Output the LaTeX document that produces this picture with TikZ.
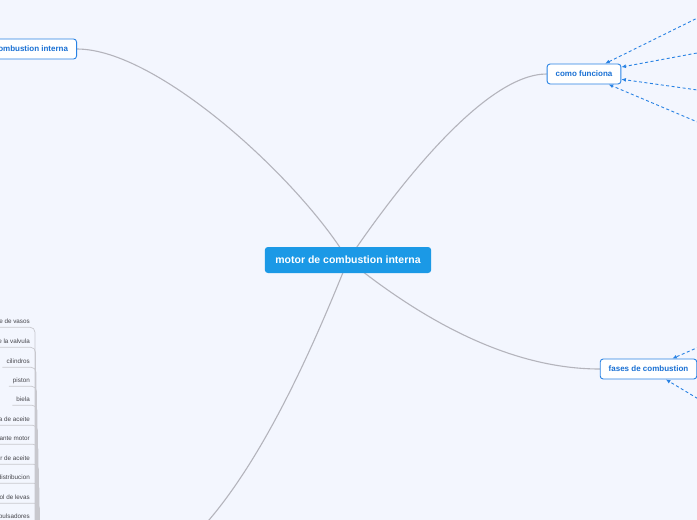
\documentclass[tikz,border=0pt]{standalone}
\usepackage{fontspec}
\setmainfont{Liberation Sans}
\usetikzlibrary{arrows.meta}

\definecolor{fondo}{RGB}{243,246,254}
\definecolor{azul}{RGB}{27,153,230}
\definecolor{borde}{RGB}{40,130,228}
\definecolor{letra}{RGB}{25,112,212}
\definecolor{gris}{RGB}{180,180,188}
\definecolor{grisclaro}{RGB}{200,200,206}
\definecolor{texto}{RGB}{70,70,76}

\pgfdeclarelayer{bg}
\pgfdeclarelayer{edges}
\pgfsetlayers{bg,edges,main}

\begin{document}
\begin{tikzpicture}[x=1pt, y=-1pt,
    raiz/.style={fill=azul, rounded corners=3pt, text=white, font=\fontsize{10.5}{12}\selectfont\bfseries, minimum height=26pt, inner xsep=10.5pt},
    rama/.style={draw=borde, fill=white, line width=0.9pt, rounded corners=3pt, text=letra, font=\fontsize{8}{9}\selectfont\bfseries, minimum height=20pt, inner xsep=8.5pt},
    hoja/.style={text=texto, font=\fontsize{6.3}{7}\selectfont, text height=4.5pt, text depth=1.3pt, inner xsep=4pt, inner ysep=2.1pt, anchor=east},
    enlace/.style={draw=gris, line width=1.1pt},
    flecha/.style={draw=borde, line width=0.9pt, dash pattern=on 3pt off 2.5pt, -{Latex[length=4.5pt,width=4pt]}},
    tallo/.style={draw=grisclaro, line width=0.7pt, rounded corners=5pt}]

        % 背景
        \begin{pgfonlayer}{bg}
            \fill[fondo] (0,0) rectangle (697,520);
        \end{pgfonlayer}
        \useasboundingbox (0,0) rectangle (697,520);

        % 中心及分支
        \node[raiz] (motor) at (348,260) {motor de combustion interna};
        \node[rama, anchor=east] (tipos) at (77,49) {combustion interna};
        \node[rama] (funciona) at (584,74) {como funciona};
        \node[rama] (fases) at (648.5,369) {fases de combustion};
        \coordinate (partes) at (100,585);

        % 灰色连线
        \begin{pgfonlayer}{edges}
            \draw[enlace] (motor.center) .. controls (300,180) and (158,49) .. (tipos.east);
            \draw[enlace] (motor.center) .. controls (402,180) and (487,74) .. (funciona.west);
            \draw[enlace] (motor.center) .. controls (410,310) and (501,369) .. (fases.west);
            \draw[enlace] (motor.center) .. controls (300,380) and (210,585) .. (partes);
        \end{pgfonlayer}

        % 虚线箭头
        \coordinate (f1) at (740,-3);
        \coordinate (f2) at (740,45);
        \coordinate (f3) at (740,96);
        \coordinate (f4) at (740,140);
        \draw[flecha] (f1) -- (funciona);
        \draw[flecha] (f2) -- (funciona);
        \draw[flecha] (f3) -- (funciona);
        \draw[flecha] (f4) -- (funciona);
        \coordinate (g1) at (740,329);
        \coordinate (g2) at (740,424);
        \draw[flecha] (g1) -- (fases);
        \draw[flecha] (g2) -- (fases);

        % 左下列表
        \coordinate (tronco) at (35,560);
        \node[hoja] (p1) at (34,322) {e de vasos};
        \node[hoja] (p2) at (34,342) {e la valvula};
        \node[hoja] (p3) at (34,362) {cilindros};
        \node[hoja] (p4) at (34,381) {piston};
        \node[hoja] (p5) at (34,400) {biela};
        \node[hoja] (p6) at (34,420) {a de aceite};
        \node[hoja] (p7) at (34,439) {ante motor};
        \node[hoja] (p8) at (34,459) {r de aceite};
        \node[hoja] (p9) at (34,478) {distribucion};
        \node[hoja] (p10) at (34,498) {ol de levas};
        \node[hoja] (p11) at (34,517) {pulsadores};
        \draw[tallo] (p1.south west) -| (tronco);
        \draw[tallo] (p2.south west) -| ([xshift=0.5pt]tronco);
        \draw[tallo] (p3.south west) -| ([xshift=1pt]tronco);
        \draw[tallo] (p4.south west) -| ([xshift=1.5pt]tronco);
        \draw[tallo] (p5.south west) -| ([xshift=2pt]tronco);
        \draw[tallo] (p6.south west) -| ([xshift=2.5pt]tronco);
        \draw[tallo] (p7.south west) -| ([xshift=3pt]tronco);
        \draw[tallo] (p8.south west) -| ([xshift=3.5pt]tronco);
        \draw[tallo] (p9.south west) -| ([xshift=4pt]tronco);
        \draw[tallo] (p10.south west) -| ([xshift=4.5pt]tronco);
        \draw[tallo] (p11.south west) -| ([xshift=5pt]tronco);
\end{tikzpicture}
\end{document}
